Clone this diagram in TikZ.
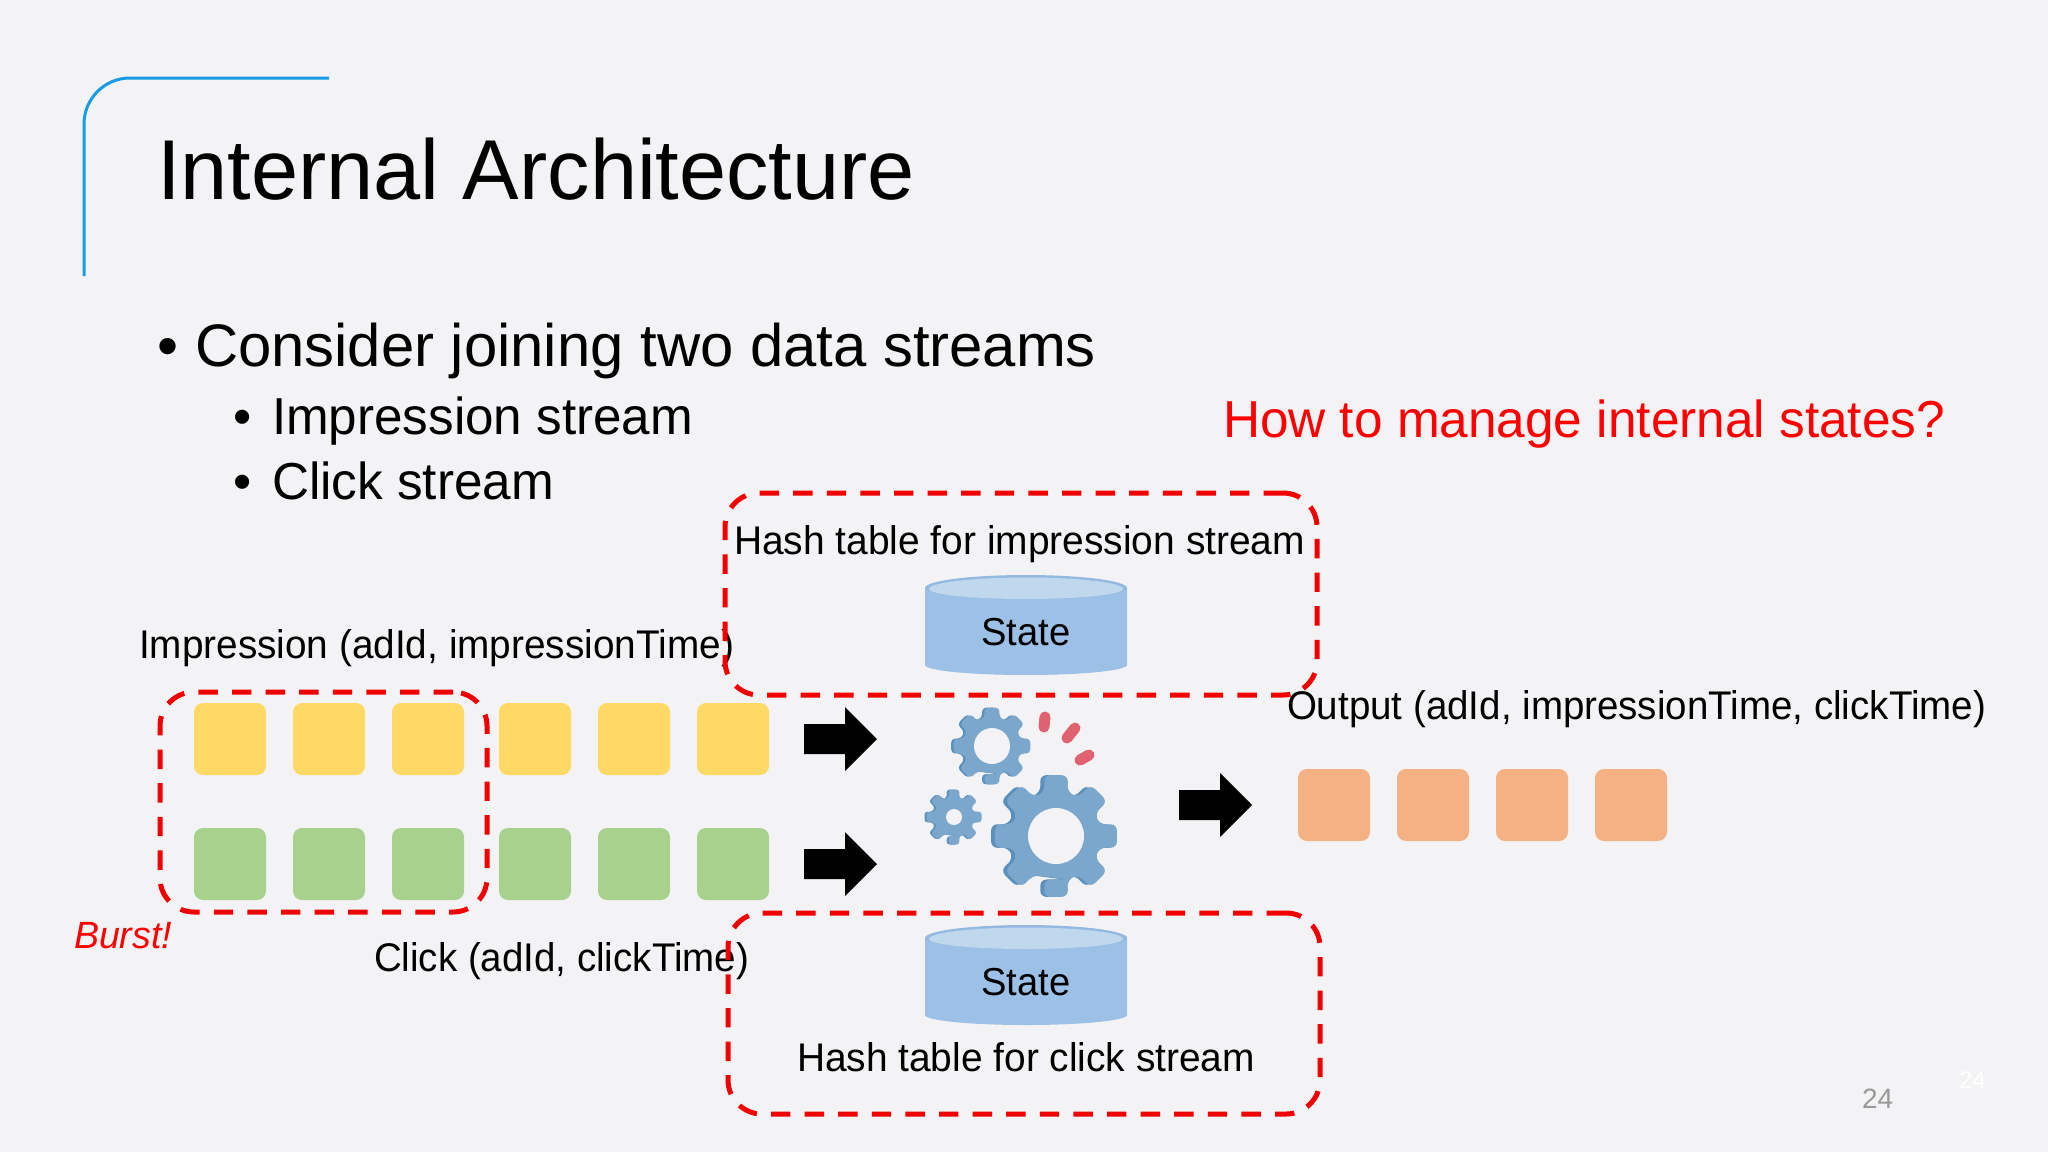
\documentclass[tikz,border=0pt]{standalone}
\usepackage{fontspec}
\usepackage{graphicx}
\setmainfont{Liberation Sans}
\definecolor{bgc}{HTML}{F3F3F5}
\definecolor{frameblue}{HTML}{1A9BE6}
\definecolor{dashred}{HTML}{F00000}
\definecolor{txtred}{HTML}{FF0000}
\definecolor{yel}{HTML}{FFD966}
\definecolor{grn}{HTML}{A9D18E}
\definecolor{org}{HTML}{F4B183}
\definecolor{cylbody}{HTML}{9DC0E6}
\definecolor{cylrim}{HTML}{94B9E0}
\definecolor{cyltop}{HTML}{C0D8EE}
\definecolor{gearc}{HTML}{7BA7CC}
\definecolor{gearsh}{HTML}{5A90BF}
\definecolor{pinkc}{HTML}{E0616F}
\tikzset{
  lbl/.style={anchor=base west,inner sep=0pt,outer sep=0pt},
  tile/.style={draw=none,rounded corners=4.5pt,minimum width=36pt,minimum height=36pt,inner sep=0pt},
  dashbox/.style={draw=dashred,line width=2.5pt,rounded corners=17pt,dash pattern=on 9.7pt off 7.1pt,inner sep=0pt},
  spark/.style={pinkc,line width=5.5pt,line cap=round},
}
% width-fitted text: #1 = width, height kept
\newcommand{\fitw}[2]{\resizebox{#1}{\height}{#2}}
\newcommand{\blockarrow}[2]{% left x, centre y
  \fill[black,shift={(#1,#2)}] (0,-15) -- (41,-15) -- (41,-32) -- (73,0) -- (41,32) -- (41,15) -- (0,15) -- cycle;
}
\newcommand{\gearicon}[6]{% cx cy R root hole shadowoffset
  \begin{scope}[shift={(#1,#2)}]
    \foreach \col/\dx in {gearsh/#6,gearc/0}{
      \fill[\col,shift={(-\dx,0)},rounded corners=#3*0.05pt]
        (90-15:#4)
        \foreach \a in {90,45,0,-45,-90,-135,-180,-225}{
          -- (\a+15:#4) -- (\a+11:#3) -- (\a-11:#3) -- (\a-15:#4)
        } -- cycle;
    }
    \fill[bgc] (0,0) circle[radius=#5];
  \end{scope}
}
\newcommand{\statecyl}[2]{% name, top y
  \begin{scope}[shift={(925,#2)}]
    \fill[cylbody] (0,13) -- (202,13) -- (202,90) arc[x radius=101,y radius=10,start angle=0,end angle=180] -- cycle;
    \fill[cylrim] (0,13) arc[x radius=101,y radius=13,start angle=180,end angle=360] arc[x radius=101,y radius=11,start angle=0,end angle=180] -- cycle;
    \fill[cyltop] (4,14) arc[x radius=97,y radius=11.5,start angle=180,end angle=360] arc[x radius=97,y radius=10,start angle=0,end angle=180] -- cycle;
    \node[anchor=center,inner sep=0pt] (#1) at (101,57) {\fitw{44.5pt}{\fontsize{19.5pt}{22pt}\selectfont State}};
  \end{scope}
}
\begin{document}
\begin{tikzpicture}[x=0.5pt,y=-0.5pt]
\useasboundingbox[fill=bgc] (0,0) rectangle (2048,1152);
% frame
\draw[frameblue,line width=1.5pt,rounded corners=23pt] (84,276) -- (84,78) -- (329,78);
% title and bullets
\node[lbl] (title) at (157,199) {\fitw{379pt}{\fontsize{42.5pt}{50pt}\selectfont Internal Architecture}};
\node[lbl] (b1) at (157,366) {\fontsize{30pt}{34pt}\selectfont •};
\node[lbl] (t1) at (195,366) {\fitw{450.5pt}{\fontsize{30pt}{34pt}\selectfont Consider joining two data streams}};
\node[lbl] (b2) at (233,434) {\fontsize{26pt}{30pt}\selectfont •};
\node[lbl] (t2) at (272,434) {\fitw{210.5pt}{\fontsize{26pt}{30pt}\selectfont Impression stream}};
\node[lbl] (b3) at (233,499) {\fontsize{26pt}{30pt}\selectfont •};
\node[lbl] (t3) at (272,499) {\fitw{141pt}{\fontsize{26pt}{30pt}\selectfont Click stream}};
\node[lbl,text=txtred] (q) at (1223,437) {\fitw{361pt}{\fontsize{26pt}{30pt}\selectfont How to manage internal states?}};
% labels
\node[lbl] (l1) at (139,658) {\fitw{297.5pt}{\fontsize{20pt}{24pt}\selectfont Impression (adId, impressionTime)}};
\node[lbl] (l2) at (734,554) {\fitw{285.5pt}{\fontsize{20pt}{24pt}\selectfont Hash table for impression stream}};
\node[lbl] (l3) at (1287,719) {\fitw{349.5pt}{\fontsize{20pt}{24pt}\selectfont Output (adId, impressionTime, clickTime)}};
\node[lbl] (l4) at (374,971) {\fitw{187.5pt}{\fontsize{20pt}{24pt}\selectfont Click (adId, clickTime)}};
\node[lbl] (l5) at (797,1071) {\fitw{229pt}{\fontsize{20pt}{24pt}\selectfont Hash table for click stream}};
\node[lbl,text=txtred] (burst) at (74,948) {\fitw{49pt}{\fontsize{19pt}{24pt}\selectfont\itshape Burst!}};
% tiles
\foreach \x/\n in {230/1,329/2,428/3,535/4,634/5,733/6}{
  \node[tile,fill=yel] (y\n) at (\x,739) {};
  \node[tile,fill=grn] (g\n) at (\x,864) {};
}
\foreach \x/\n in {1334/1,1433/2,1532/3,1631/4}{
  \node[tile,fill=org] (o\n) at (\x,805) {};
}
% arrows
\blockarrow{804}{739}
\blockarrow{804}{864}
\blockarrow{1179}{805}
% gears
\gearicon{992}{746}{39}{29}{18}{2.5}
\gearicon{954}{817}{28}{20}{8}{2}
\gearicon{1056}{836}{62}{45}{28}{4}
\draw[spark] (1045,717) -- (1044,727);
\draw[spark] (1075,728) -- (1067,738);
\draw[spark] (1089,755) -- (1080,760);
% cylinders
\statecyl{s1}{575}
\statecyl{s2}{925}
% dashed boxes
\node[dashbox,minimum width=296pt,minimum height=101pt] (box1) at (1021,594) {};
\node[dashbox,minimum width=296pt,minimum height=100.5pt] (box2) at (1024,1013.5) {};
\node[dashbox,minimum width=163.5pt,minimum height=110pt] (box3) at (323.5,802) {};
% page numbers
\node[lbl,text=black!40] (p1) at (1862,1108) {\fontsize{14pt}{16pt}\selectfont 24};
\node[lbl,text=white] (p2) at (1959,1088) {\fontsize{12pt}{14pt}\selectfont 24};
\end{tikzpicture}
\end{document}
